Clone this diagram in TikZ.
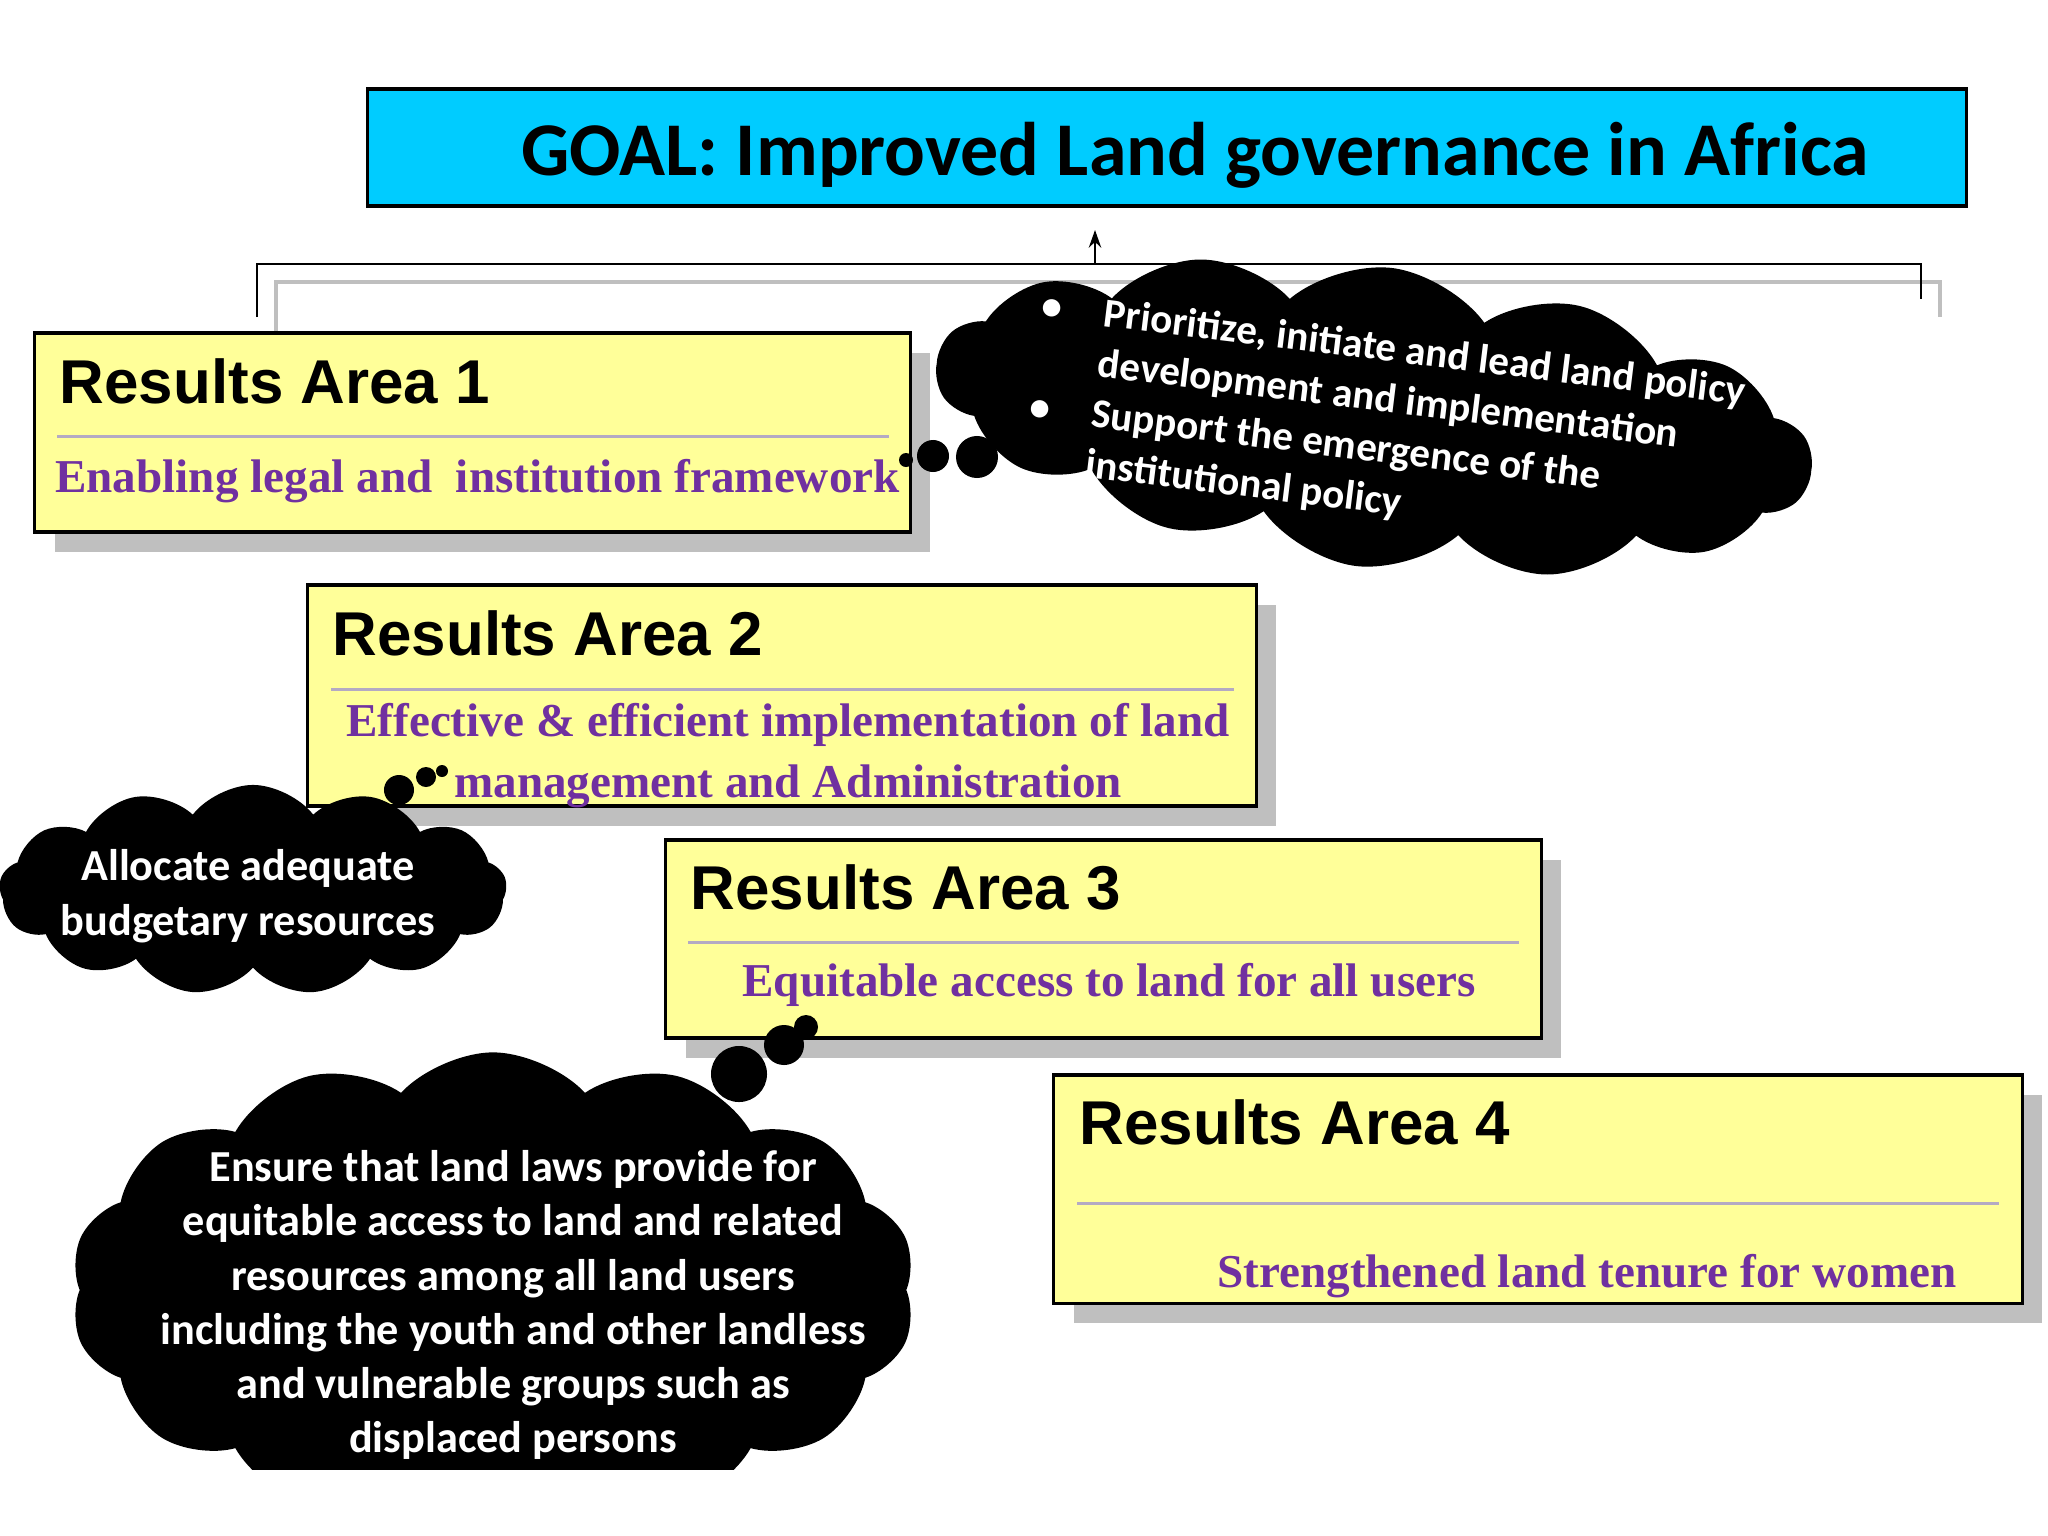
\documentclass[tikz,border=0pt]{standalone}
\usepackage{fontspec}
\setmainfont{Carlito}
\newfontfamily\arialfont{Liberation Sans}
\newfontfamily\timesfont{Liberation Serif}
\usepackage{xcolor}
\usetikzlibrary{shapes.symbols, shadows, positioning, calc, arrows.meta}

\definecolor{goalcyan}{RGB}{0,204,255}
\definecolor{rayellow}{RGB}{255,255,153}
\definecolor{subpurple}{RGB}{112,48,160}
\definecolor{sepgray}{RGB}{180,170,195}
\definecolor{shadowgray}{RGB}{191,191,191}

\begin{document}
\begin{tikzpicture}[
    x=0.01cm, y=-0.01cm,
    goalbox/.style={rectangle, draw, line width=1.1pt, fill=goalcyan, inner sep=0pt, minimum width=15.98cm, minimum height=1.17cm},
    rabox/.style={rectangle, draw, line width=0.9pt, fill=rayellow, inner sep=0pt, drop shadow={fill=shadowgray, opacity=1, shadow xshift=0.2cm, shadow yshift=-0.2cm}},
    ratitle/.style={anchor=west, inner sep=0pt, font=\arialfont\bfseries\fontsize{17.6}{21}\selectfont},
    rasub/.style={inner sep=0pt, align=center, text=subpurple, font=\timesfont\bfseries\fontsize{13.4}{17.4}\selectfont},
    sepline/.style={draw=sepgray, line width=0.8pt},
    thought/.style={cloud, cloud ignores aspect, fill=black, draw=none, inner sep=0pt},
    thoughttext/.style={text=white, align=center, inner sep=0pt, font=\bfseries\fontsize{12.6}{15.4}\selectfont},
    bubble/.style={circle, fill=black, draw=none, inner sep=0pt},
    arrow/.style={-{Stealth[length=5pt, width=3.5pt]}, line width=0.7pt},
    link/.style={line width=0.7pt},
    linkshadow/.style={draw=shadowgray, line width=0.9pt}
]
\useasboundingbox (0,0) rectangle (2048,1536);

% Goal
\node[goalbox] (goal) at (1167,147.5) {};
\node[font=\bfseries\fontsize{21.6}{26}\selectfont, inner sep=0pt] (goaltxt) at (1195,155) {GOAL: Improved Land governance in Africa};

% Bracket joining the results areas
\coordinate (bl) at (257,317);
\coordinate (br) at (1921,299);
\coordinate (bmid) at (1095,264);
\coordinate (btip) at (1095,230);
\draw[linkshadow] ([shift={(19,18)}]bl) -- ([shift={(19,18)}]bl |- bmid) -- ([shift={(19,18)}]br |- bmid) -- ([shift={(19,18)}]br);
\draw[link] (bl) -- (bl |- bmid) -- (br |- bmid) -- (br);
\draw[arrow] (bmid) -- (btip);

% Results Area 1
\node[rabox, minimum width=8.75cm, minimum height=1.99cm] (ra1) at (472.5,432.5) {};
\node[ratitle] (ra1t) at ($(ra1.north west)+(26,50)$) {Results Area 1};
\draw[sepline] ($(ra1.north west)+(24,105)$) -- ($(ra1.north east)+(-23,105)$);
\node[rasub] (ra1s) at ($(ra1.north)+(5,150)$) {Enabling legal and\ \ institution framework};

% Results Area 2
\node[rabox, minimum width=9.48cm, minimum height=2.21cm] (ra2) at (782,695.5) {};
\node[ratitle] (ra2t) at ($(ra2.north west)+(26,50)$) {Results Area 2};
\draw[sepline] ($(ra2.north west)+(25,106)$) -- ($(ra2.north east)+(-24,106)$);
\node[rasub] (ra2s) at ($(ra2.north)+(6,172.5)$) {Effective \& efficient implementation of land\\management and Administration};

% Results Area 3
\node[rabox, minimum width=8.75cm, minimum height=1.98cm] (ra3) at (1103.5,939) {};
\node[ratitle] (ra3t) at ($(ra3.north west)+(26,49)$) {Results Area 3};
\draw[sepline] ($(ra3.north west)+(24,104)$) -- ($(ra3.north east)+(-24,104)$);
\node[rasub] (ra3s) at ($(ra3.north)+(5.5,147)$) {Equitable access to land for all users};

% Results Area 4
\node[rabox, minimum width=9.68cm, minimum height=2.28cm] (ra4) at (1538,1189) {};
\node[ratitle] (ra4t) at ($(ra4.north west)+(27,49)$) {Results Area 4};
\draw[sepline] ($(ra4.north west)+(25,130)$) -- ($(ra4.north east)+(-25,130)$);
\node[rasub] (ra4s) at ($(ra4.north)+(49,203)$) {Strengthened land tenure for women};

% Thought cloud 1
\node[thought, cloud puffs=14, cloud puff arc=95, minimum width=8.8cm, minimum height=3cm, rotate=-7] (cl1) at (1374,417) {};
\node[bubble, minimum size=0.14cm] (cl1a) at (906,460) {};
\node[bubble, minimum size=0.32cm] (cl1b) at (933,456) {};
\node[bubble, minimum size=0.42cm] (cl1c) at (977,457) {};
\node[thoughttext, align=left, rotate=-7, font=\bfseries\fontsize{11.7}{14.4}\selectfont] (cl1t) at (1384,427) {%
\begin{tabular}{@{}l@{\hspace{12pt}}l@{}}
\textbullet & Prioritize, initiate and lead land policy\\
 & development and implementation\\
\textbullet & Support the emergence of the\\
 & institutional policy
\end{tabular}};

% Thought cloud 2
\node[thought, cloud puffs=13, cloud puff arc=105, minimum width=5.07cm, minimum height=2.1cm] (cl2) at (253,890) {};
\node[bubble, minimum size=0.30cm] (cl2a) at (399,790) {};
\node[bubble, minimum size=0.20cm] (cl2b) at (426,777) {};
\node[bubble, minimum size=0.12cm] (cl2c) at (442,771) {};
\node[thoughttext, font=\bfseries\fontsize{12.6}{15.6}\selectfont] (cl2t) at (248,896) {Allocate adequate\\budgetary resources};

% Thought cloud 3 (cut at the bottom)
\begin{scope}
\clip (0,0) rectangle (2048,1469);
\node[thought, cloud puffs=14, cloud puff arc=95, minimum width=8.45cm, minimum height=4.75cm] (cl3) at (493,1290) {};
\end{scope}
\node[bubble, minimum size=0.24cm] (cl3a) at (806,1027) {};
\node[bubble, minimum size=0.40cm] (cl3b) at (784,1045) {};
\node[bubble, minimum size=0.56cm] (cl3c) at (739,1074) {};
\node[thoughttext] (cl3t) at (513,1305) {Ensure that land laws provide for\\equitable access to land and related\\resources among all land users\\including the youth and other landless\\and vulnerable groups such as\\displaced persons};

\end{tikzpicture}
\end{document}
